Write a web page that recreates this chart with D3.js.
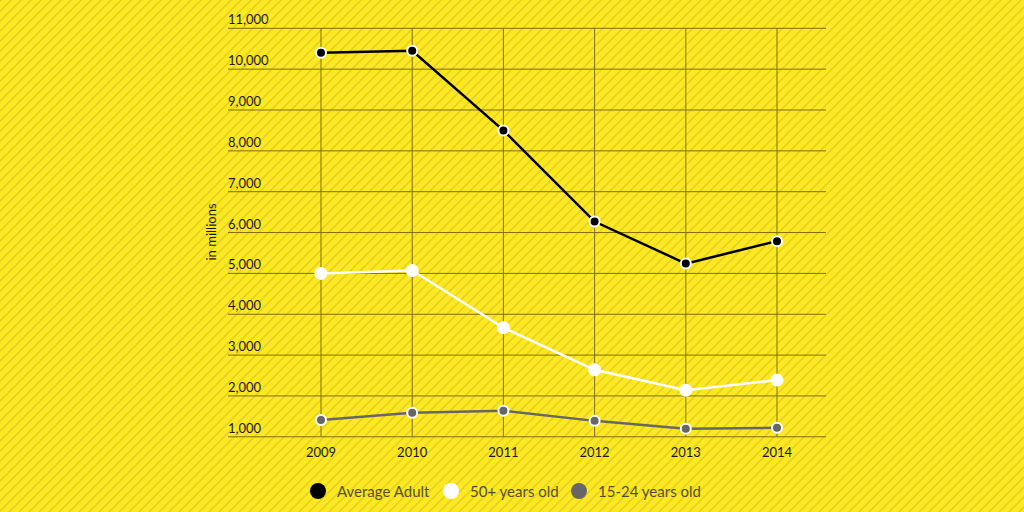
<!DOCTYPE html>
<html>
<head>
    <meta charset="utf-8" />
    <script src="https://cdn.jsdelivr.net/npm/d3@7"></script>
    <style>
        body { margin: 0; background: #fde824; }
        text { font-family: Lato, "Noto Sans", sans-serif; }
    </style>
</head>
<body>
</body>
<script>
    // data
    var years = [2009, 2010, 2011, 2012, 2013, 2014];
    var averageAdult = [10400, 10450, 8500, 6270, 5240, 5790];
    var over50 = [5000, 5070, 3670, 2640, 2140, 2390];
    var age15to24 = [1410, 1590, 1640, 1390, 1200, 1220];
    var yTicks = [1000, 2000, 3000, 4000, 5000, 6000, 7000, 8000, 9000, 10000, 11000];
    var seriesNames = ["Average Adult", "50+ years old", "15-24 years old"];

    var W = 1024, H = 512;
    var plotLeft = 228, plotRight = 826, plotTop = 28.3, plotBottom = 436.8;

    var svg = d3.select("body").append("svg")
        .attr("width", W)
        .attr("height", H);

    // striped background
    var defs = svg.append("defs");
    var pat = defs.append("pattern")
        .attr("id", "stripes")
        .attr("patternUnits", "userSpaceOnUse")
        .attr("width", 7.07)
        .attr("height", 7.07)
        .attr("patternTransform", "rotate(45)");
    pat.append("rect").attr("width", 7.07).attr("height", 7.07).attr("fill", "#fde824");
    pat.append("rect").attr("width", 1.6).attr("height", 7.07).attr("fill", "#e4cf1e");
    svg.append("rect").attr("width", W).attr("height", H).attr("fill", "url(#stripes)");

    var x = d3.scaleLinear().domain([2009, 2014]).range([321, 777]);
    var y = d3.scaleLinear().domain([1000, 11000]).range([plotBottom, plotTop]);

    var grid = svg.append("g");
    grid.selectAll("line.h")
        .data(yTicks)
        .enter().append("line")
        .attr("class", "h")
        .attr("x1", plotLeft).attr("x2", plotRight)
        .attr("y1", function (d) { return y(d); })
        .attr("y2", function (d) { return y(d); })
        .attr("stroke", "#7f700c")
        .attr("stroke-width", 1);
    grid.selectAll("line.v")
        .data(years)
        .enter().append("line")
        .attr("class", "v")
        .attr("x1", function (d) { return x(d); })
        .attr("x2", function (d) { return x(d); })
        .attr("y1", plotTop).attr("y2", plotBottom)
        .attr("stroke", "#7f700c")
        .attr("stroke-width", 1);

    var fmt = d3.format(",");
    svg.append("g").selectAll("text")
        .data(yTicks)
        .enter().append("text")
        .attr("x", plotLeft)
        .attr("y", function (d) { return y(d) - 4; })
        .attr("font-size", 13)
        .attr("fill", "#1a1a1a")
        .text(function (d) { return fmt(d); });

    svg.append("g").selectAll("text")
        .data(years)
        .enter().append("text")
        .attr("x", function (d) { return x(d); })
        .attr("y", 457)
        .attr("text-anchor", "middle")
        .attr("font-size", 13)
        .attr("fill", "#1a1a1a")
        .text(function (d) { return d; });

    svg.append("text")
        .attr("transform", "translate(216,232) rotate(-90)")
        .attr("text-anchor", "middle")
        .attr("font-size", 13)
        .attr("fill", "#1a1a1a")
        .text("in millions");

    var line = d3.line()
        .x(function (d, i) { return x(years[i]); })
        .y(function (d) { return y(d); });

    // series: values, line colour, dot fill, dot stroke
    var series = [
        { values: age15to24, color: "#666666", fill: "#666666", stroke: "#ffffff", r: 5 },
        { values: over50, color: "#ffffff", fill: "#ffffff", stroke: "none", r: 6.5 },
        { values: averageAdult, color: "#000000", fill: "#000000", stroke: "#ffffff", r: 5 }
    ];

    series.forEach(function (s) {
        svg.append("path")
            .datum(s.values)
            .attr("d", line)
            .attr("fill", "none")
            .attr("stroke", s.color)
            .attr("stroke-width", 2.5);
        svg.append("g").selectAll("circle")
            .data(s.values)
            .enter().append("circle")
            .attr("cx", function (d, i) { return x(years[i]); })
            .attr("cy", function (d) { return y(d); })
            .attr("r", s.r)
            .attr("fill", s.fill)
            .attr("stroke", s.stroke)
            .attr("stroke-width", 2);
    });

    // legend
    var legendColors = ["#000000", "#ffffff", "#666666"];
    var legendX = [318, 451, 579];
    var legend = svg.append("g");
    legend.selectAll("circle")
        .data(seriesNames)
        .enter().append("circle")
        .attr("cx", function (d, i) { return legendX[i]; })
        .attr("cy", 491)
        .attr("r", 8)
        .attr("fill", function (d, i) { return legendColors[i]; });
    legend.selectAll("text")
        .data(seriesNames)
        .enter().append("text")
        .attr("x", function (d, i) { return legendX[i] + 19; })
        .attr("y", 496.5)
        .attr("font-size", 15)
        .attr("fill", "#55502a")
        .text(function (d) { return d; });
</script>
</html>
